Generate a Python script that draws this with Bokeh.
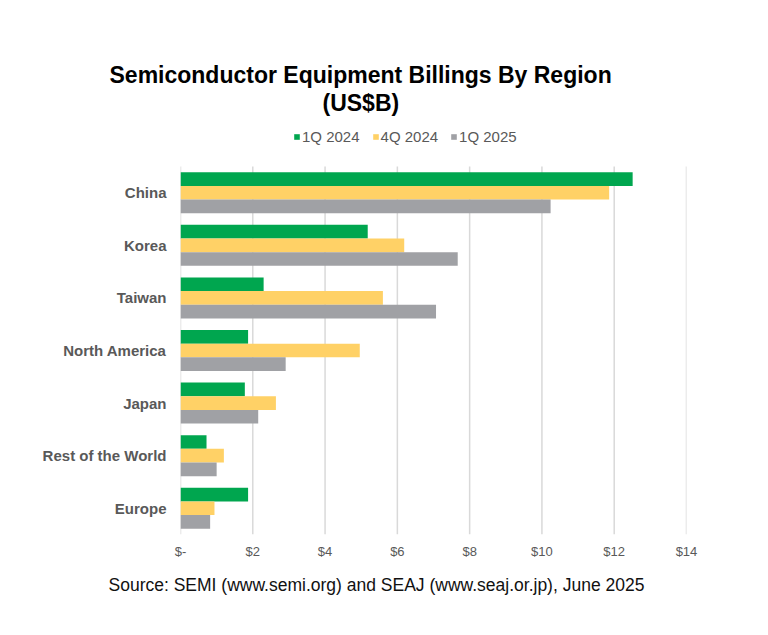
from bokeh.plotting import figure
from bokeh.models import (ColumnDataSource, Range1d, FixedTicker, CustomJSTickFormatter,
                          Title, Legend, LegendItem)
from bokeh.transform import dodge
from bokeh.embed import file_html
from bokeh.resources import INLINE

regions = ["China", "Korea", "Taiwan", "North America", "Japan", "Rest of the World", "Europe"]
q1_2024 = [12.51, 5.18, 2.30, 1.87, 1.78, 0.72, 1.87]
q4_2024 = [11.86, 6.19, 5.60, 4.96, 2.64, 1.20, 0.94]
q1_2025 = [10.24, 7.67, 7.07, 2.91, 2.15, 1.00, 0.82]
series_names = ["1Q 2024", "4Q 2024", "1Q 2025"]
x_ticks = [0, 2, 4, 6, 8, 10, 12, 14]

colors = ["#00A64F", "#FFD166", "#A0A1A5"]
FONT = "Liberation Sans"

n = len(regions)
pos = [n - 1 - i for i in range(n)]          # China on top
tick_labels = list(reversed(regions))         # label for position 0..n-1

src = ColumnDataSource(dict(region=regions, pos=pos, a=q1_2024, b=q4_2024, c=q1_2025))

# layout (pixels)
W, H = 768, 635
L, R, T, B = 180, 82, 115, 101
frame_h = H - B - T
band_top = 166 - T                   # top of the category band, from frame top
px_per_cat = (frame_h - band_top) / n
y_end = (n - 0.5) + band_top / px_per_cat

p = figure(width=W, height=H, output_backend="svg", toolbar_location=None, title=None,
           x_range=Range1d(0, x_ticks[-1]), y_range=Range1d(-0.5, y_end),
           min_border_left=L, min_border_right=R, min_border_top=T, min_border_bottom=B)
p.outline_line_color = None
p.background_fill_color = "white"
p.border_fill_color = "white"
p.xgrid.grid_line_color = None
p.ygrid.grid_line_color = None

# vertical grid lines over the category band only
p.segment(x0=x_ticks, x1=x_ticks, y0=-0.5, y1=n - 0.5, line_color="#D9D9D9", line_width=1.5)

bh = 0.26
renderers = []
for key, off, col in zip(["a", "b", "c"], [bh, 0, -bh], colors):
    r = p.hbar(y=dodge("pos", off), right=key, left=0, height=bh,
               source=src, fill_color=col, line_color=None)
    renderers.append(r)

# x axis
p.xaxis.ticker = FixedTicker(ticks=x_ticks)
p.xaxis.formatter = CustomJSTickFormatter(code='return tick == 0 ? "$-" : "$" + tick;')
p.xaxis.axis_line_color = None
p.xaxis.major_tick_line_color = None
p.xaxis.minor_tick_line_color = None
p.xaxis.major_label_text_color = "#595959"
p.xaxis.major_label_text_font = FONT
p.xaxis.major_label_text_font_size = "13px"
p.xaxis.major_label_standoff = 3

# y axis (category names)
p.yaxis.ticker = FixedTicker(ticks=list(range(n)))
p.yaxis.formatter = CustomJSTickFormatter(args=dict(labels=tick_labels),
                                          code='const i = Math.round(tick); return labels[i] ?? "";')
p.yaxis.axis_line_color = None
p.yaxis.major_tick_line_color = None
p.yaxis.minor_tick_line_color = None
p.yaxis.major_label_text_color = "#595959"
p.yaxis.major_label_text_font = FONT
p.yaxis.major_label_text_font_style = "bold"
p.yaxis.major_label_text_font_size = "15px"
p.yaxis.major_label_standoff = 8

# legend (inside the frame, above the category band)
legend = Legend(items=[LegendItem(label=s, renderers=[r]) for s, r in zip(series_names, renderers)],
                orientation="horizontal", location=(113, (H - B) - 145),
                glyph_width=7, glyph_height=7, label_standoff=2, spacing=12,
                padding=0, margin=0, border_line_color=None, background_fill_alpha=0,
                label_text_font=FONT, label_text_font_size="15px", label_text_color="#595959",
                label_height=15)
p.add_layout(legend, "center")

# titles: the one added first sits closest to the frame
p.add_layout(Title(text="(US$B)", align="left", offset=142,
                   text_font=FONT, text_font_size="23px", text_font_style="bold",
                   text_color="black", standoff=0), "above")
p.add_layout(Title(text="Semiconductor Equipment Billings By Region", align="left", offset=109 - L,
                   text_font=FONT, text_font_size="23px", text_font_style="bold",
                   text_color="black", standoff=0), "above")

p.add_layout(Title(text="Source: SEMI (www.semi.org) and SEAJ (www.seaj.or.jp), June 2025",
                   align="left", offset=108 - L, text_font=FONT, text_font_size="17.5px",
                   text_font_style="normal", text_color="#111111", standoff=23), "below")

open("out.html", "w").write(file_html(p, INLINE))
